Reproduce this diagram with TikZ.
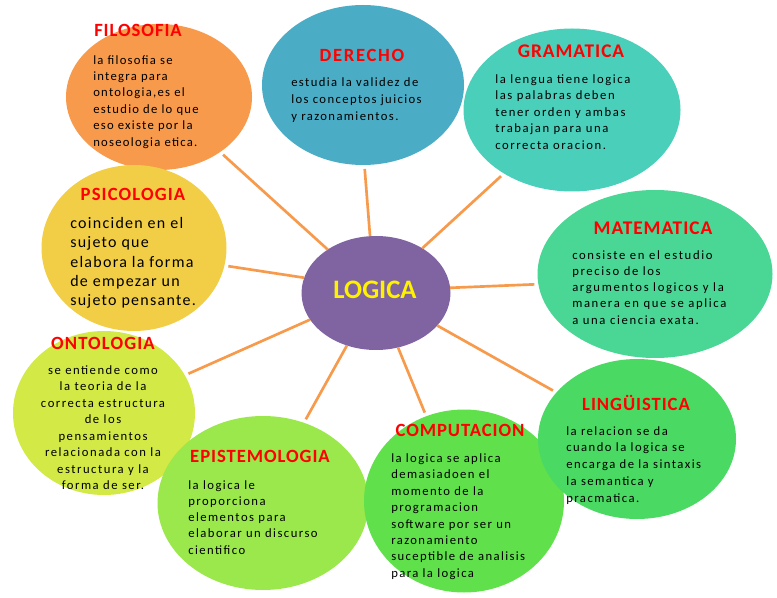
\documentclass[tikz,border=0pt]{standalone}
\usepackage{fontspec}
\setmainfont{Carlito}
\definecolor{cfil}{HTML}{F79A4B}
\definecolor{cder}{HTML}{4BACC6}
\definecolor{cgra}{HTML}{4ACFBB}
\definecolor{cmat}{HTML}{4AD695}
\definecolor{cpsi}{HTML}{F2CE47}
\definecolor{clog}{HTML}{8064A2}
\definecolor{cont}{HTML}{D2E946}
\definecolor{cepi}{HTML}{9AE84B}
\definecolor{ccom}{HTML}{60E04B}
\definecolor{clin}{HTML}{4AD963}
\usetikzlibrary{shapes.geometric}
\tikzset{
  blob/.style={ellipse,draw=none,inner sep=0pt,outer sep=0pt},
  blobsize/.style 2 args={minimum width=#1*0.75pt,minimum height=#2*0.75pt},
  heading/.style n args={2}{text=red,inner sep=0pt,font=\fontsize{#1}{16}\selectfont\bfseries\addfontfeature{LetterSpace=#2}},
  bodytext/.style n args={3}{anchor=north west,align=left,inner sep=0pt,text=black,
    font=\fontsize{#1}{#2}\selectfont\addfontfeature{LetterSpace=#3}},
  conn/.style={draw=cfil,line width=2pt,shorten <=3pt,shorten >=0pt}
}
\begin{document}
\begin{tikzpicture}[x=0.75pt,y=-0.75pt]
\useasboundingbox (0,0) rectangle (777,598);
\node[blob,blobsize={186}{146},fill=cfil] (filosofia) at (159,97) {};
\node[blob,blobsize={202}{160},fill=cder] (derecho) at (363,85) {};
\node[blob,blobsize={217}{163},fill=cgra] (gramatica) at (572,110) {};
\node[blob,blobsize={235}{168},fill=cmat] (matematica) at (655,274) {};
\node[blob,blobsize={185}{166},fill=cpsi] (psicologia) at (134,248) {};
\node[blob,blobsize={149}{114},fill=clog] (logica) at (376,293) {};
\node[blob,blobsize={182}{164},fill=cont] (ontologia) at (104,413) {};
\node[blob,blobsize={211}{174},fill=cepi] (epistemologia) at (263,503) {};
\node[blob,blobsize={200}{183},fill=ccom] (computacion) at (464,501) {};
\node[blob,blobsize={198}{160},fill=clin] (linguistica) at (637,439) {};

\draw[conn] (filosofia.-42) -- (logica.138);
\draw[conn] (derecho.-89) -- (logica.96);
\draw[conn] (gramatica.-137) -- (logica.44);
\draw[conn] (matematica.-175) -- (logica.4);
\draw[conn] (linguistica.150) -- (logica.-28);
\draw[conn] (computacion.114) -- (logica.-68);
\draw[conn] (epistemologia.63) -- (logica.-119);
\draw[conn] (ontologia.25) -- (logica.-158);
\draw[conn] (psicologia.-11) -- (logica.168);

\node[heading={14}{5}] (tfil) at (138,30) {FILOSOFIA};
\node[heading={14}{9}] (tder) at (362,55) {DERECHO};
\node[heading={14.5}{5}] (tgra) at (571,51) {GRAMATICA};
\node[heading={14.5}{5}] (tmat) at (653,228) {MATEMATICA};
\node[heading={14}{6}] (tpsi) at (133,194) {PSICOLOGIA};
\node[heading={14}{6}] (tont) at (103,343) {ONTOLOGIA};
\node[heading={14}{5}] (tepi) at (260,456) {EPISTEMOLOGIA};
\node[heading={14}{5}] (tcom) at (460,430) {COMPUTACION};
\node[heading={14}{5}] (tlin) at (636,403) {LINGÜISTICA};
\node[inner sep=0pt,text=yellow,font=\fontsize{20}{22}\selectfont\bfseries] (tlog) at (375,290) {LOGICA};

\node[bodytext={9.5}{12.3}{10}] (bfil) at (93,55) {la filosofia se\\integra para\\ontologia,es el\\estudio de lo que\\eso existe por la\\noseologia etica.};
\node[bodytext={9.5}{12.8}{11}] (bder) at (291,77) {estudia la validez de\\los conceptos juicios\\y razonamientos.};
\node[bodytext={9.5}{12.4}{12.5}] (bgra) at (495,74) {la lengua tiene logica\\las palabras deben\\tener orden y ambas\\trabajan para una\\correcta oracion.};
\node[bodytext={9.5}{12.2}{13}] (bmat) at (572,250) {consiste en el estudio\\preciso de los\\argumentos logicos y la\\manera en que se aplica\\a una ciencia exata.};
\node[bodytext={12}{14.3}{8}] (bpsi) at (70,217.5) {coinciden en el\\sujeto que\\elabora la forma\\de empezar un\\sujeto pensante.};
\node[bodytext={9.5}{12.4}{12},anchor=north,align=center] (bont) at (103,365) {se entiende como\\la teoria de la\\correcta estructura\\de los\\pensamientos\\relacionada con la\\estructura y la\\forma de ser.};
\node[bodytext={9.5}{12.2}{11.5}] (bepi) at (188,480) {la logica le\\proporciona\\elementos para\\elaborar un discurso\\cientifico};
\node[bodytext={9.5}{12.3}{11}] (bcom) at (391,453.5) {la logica se aplica\\demasiadoen el\\momento de la\\programacion\\software por ser un\\razonamiento\\suceptible de analisis\\para la logica};
\node[bodytext={9.5}{12.6}{11.5}] (blin) at (566,426) {la relacion se da\\cuando la logica se\\encarga de la sintaxis\\la semantica y\\pracmatica.};
\end{tikzpicture}
\end{document}
